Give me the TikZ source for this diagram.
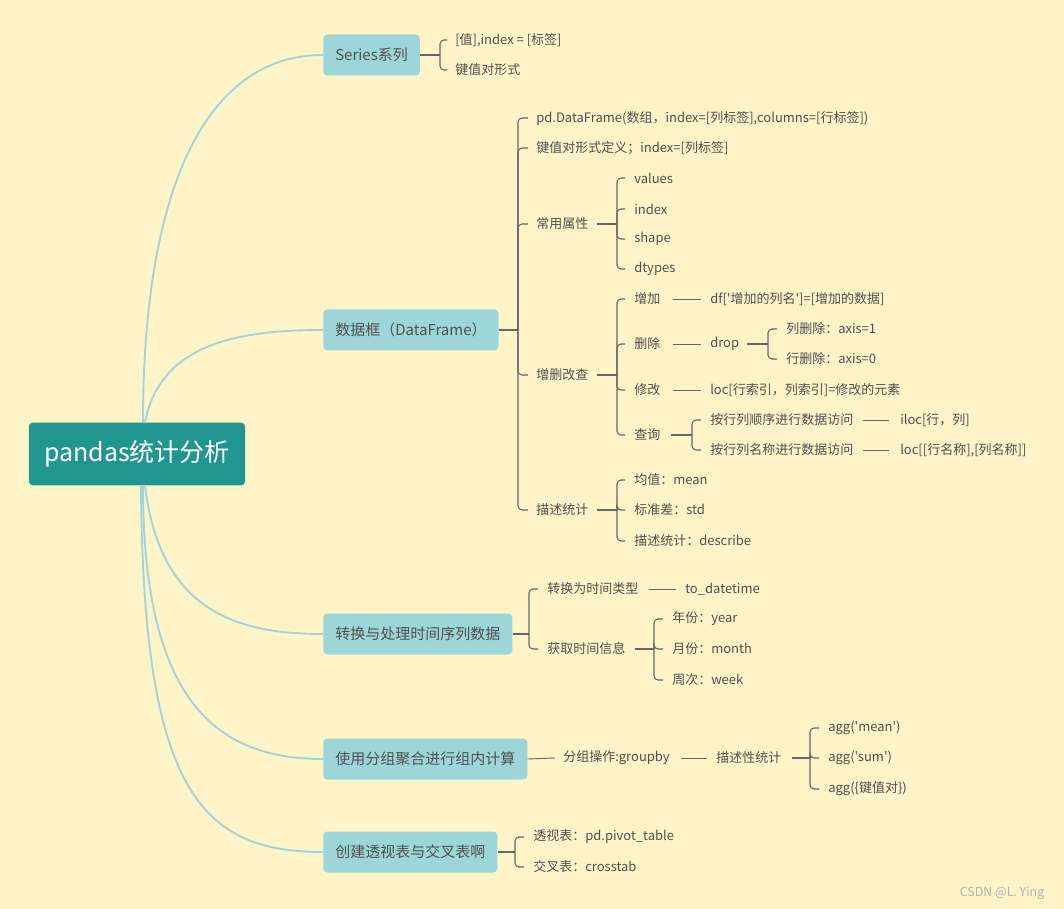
\documentclass[tikz,border=0pt]{standalone}
\usepackage{fontspec}
\newfontfamily\uifont{Noto Sans CJK SC}
\usetikzlibrary{calc}
\definecolor{bgcol}{HTML}{FFF3C8}
\definecolor{rootcol}{HTML}{219690}
\definecolor{topiccol}{HTML}{9CD6D8}
\definecolor{curvecol}{HTML}{9DD5DE}
\definecolor{linecol}{HTML}{666666}
\definecolor{txtcol}{HTML}{505050}

\begin{document}
\begin{tikzpicture}[
    x=0.75pt, y=-0.75pt,
    root/.style={rectangle, fill=rootcol, text=white, rounded corners=3pt,
                 font=\uifont\fontsize{18.75pt}{22pt}\selectfont,
                 inner xsep=11.5pt, minimum height=47pt},
    topic/.style={rectangle, fill=topiccol, text=txtcol, rounded corners=3pt,
                  font=\uifont\fontsize{11.25pt}{14pt}\selectfont,
                  inner xsep=9pt, minimum height=30.75pt, anchor=west},
    leaf/.style={text=txtcol, font=\uifont\fontsize{9.75pt}{12pt}\selectfont,
                 inner sep=0pt, anchor=west},
    branch/.style={draw=curvecol, line width=1.4pt},
    stem/.style={draw=linecol, line width=1.2pt},
    brk/.style={draw=linecol, line width=0.8pt, rounded corners=3pt},
    link/.style={draw=linecol, line width=0.7pt}
]
    \useasboundingbox (0,0) rectangle (1064,909);
    \fill[bgcol] (0,0) rectangle (1064,909);

    % main topics
    \node[root] (root) at (137,454) {pandas统计分析};
    \node[topic] (ser) at (323,55) {Series系列};
    \node[topic] (df) at (323,330) {数据框（DataFrame）};
    \node[topic] (ts) at (323,634) {转换与处理时间序列数据};
    \node[topic] (grp) at (323,759) {使用分组聚合进行组内计算};
    \node[topic] (pvt) at (323,852) {创建透视表与交叉表啊};

    \draw[branch] ($(root.north)+(6,0)$) .. controls (143,190) and (205,55) .. (ser.west);
    \draw[branch] ($(root.north)+(8,0)$) .. controls (160,345) and (235,330) .. (df.west);
    \draw[branch] ($(root.south)+(8,0)$) .. controls (160,610) and (235,634) .. (ts.west);
    \draw[branch] ($(root.south)+(6,0)$) .. controls (143,700) and (215,759) .. (grp.west);
    \draw[branch] ($(root.south)+(4,0)$) .. controls (143,790) and (200,852) .. (pvt.west);

    % Series
    \node[leaf] (s1) at (455,40) {[值],index = [标签]};
    \node[leaf] (s2) at (455,70) {键值对形式};
    \coordinate (bS) at (440,55);
    \draw[stem] (ser.east) -- (bS);
    \foreach \c in {s1,s2}
        \draw[brk] (bS) |- ($(\c.west)+(-8,0)$);

    % DataFrame
    \node[leaf] (d1) at (536,118) {pd.DataFrame(数组，index=[列标签],columns=[行标签])};
    \node[leaf] (d2) at (536,148) {键值对形式定义；index=[列标签]};
    \node[leaf] (d3) at (536,224) {常用属性};
    \node[leaf] (d4) at (536,375) {增删改查};
    \node[leaf] (d5) at (536,510) {描述统计};
    \coordinate (bD) at (518,330);
    \draw[stem] (df.east) -- (bD);
    \foreach \c in {d1,d2,d3,d4,d5}
        \draw[brk] (bD) |- ($(\c.west)+(-8,0)$);

    \node[leaf] (a1) at (634,178) {values};
    \node[leaf] (a2) at (634,209) {index};
    \node[leaf] (a3) at (634,239) {shape};
    \node[leaf] (a4) at (634,269) {dtypes};
    \coordinate (bA) at (617,224);
    \draw[stem] ($(d3.east)+(8,0)$) -- (bA);
    \foreach \c in {a1,a2,a3,a4}
        \draw[brk] (bA) |- ($(\c.west)+(-9,0)$);

    \node[leaf] (c1) at (634,299) {增加};
    \node[leaf] (c2) at (634,344) {删除};
    \node[leaf] (c3) at (634,390) {修改};
    \node[leaf] (c4) at (634,435) {查询};
    \coordinate (bC) at (617,375);
    \draw[stem] ($(d4.east)+(8,0)$) -- (bC);
    \foreach \c in {c1,c2,c3,c4}
        \draw[brk] (bC) |- ($(\c.west)+(-9,0)$);

    \node[leaf] (c1a) at (710,299) {df['增加的列名']=[增加的数据]};
    \draw[link] ($(c1.east)+(12,0)$) -- ($(c1a.west)+(-9,0)$);
    \node[leaf] (c2a) at (710,344) {drop};
    \draw[link] ($(c2.east)+(12,0)$) -- ($(c2a.west)+(-9,0)$);
    \node[leaf] (c2b) at (786,329) {列删除：axis=1};
    \node[leaf] (c2c) at (786,359) {行删除：axis=0};
    \coordinate (bDrop) at (768,344);
    \draw[stem] ($(c2a.east)+(8,0)$) -- (bDrop);
    \foreach \c in {c2b,c2c}
        \draw[brk] (bDrop) |- ($(\c.west)+(-9,0)$);
    \node[leaf] (c3a) at (710,390) {loc[行索引，列索引]=修改的元素};
    \draw[link] ($(c3.east)+(12,0)$) -- ($(c3a.west)+(-9,0)$);

    \node[leaf] (q1) at (710,420) {按行列顺序进行数据访问};
    \node[leaf] (q2) at (710,450) {按行列名称进行数据访问};
    \coordinate (bQ) at (692,435);
    \draw[stem] ($(c4.east)+(10,0)$) -- (bQ);
    \foreach \c in {q1,q2}
        \draw[brk] (bQ) |- ($(\c.west)+(-9,0)$);
    \node[leaf] (q1a) at (900,420) {iloc[行，列]};
    \draw[link] ($(q1.east)+(9,0)$) -- ($(q1a.west)+(-11,0)$);
    \node[leaf] (q2a) at (900,450) {loc[[行名称],[列名称]]};
    \draw[link] ($(q2.east)+(9,0)$) -- ($(q2a.west)+(-11,0)$);

    \node[leaf] (e1) at (634,480) {均值：mean};
    \node[leaf] (e2) at (634,510) {标准差：std};
    \node[leaf] (e3) at (634,541) {描述统计：describe};
    \coordinate (bE) at (617,510);
    \draw[stem] ($(d5.east)+(8,0)$) -- (bE);
    \foreach \c in {e1,e2,e3}
        \draw[brk] (bE) |- ($(\c.west)+(-9,0)$);

    % time series
    \node[leaf] (t1) at (547,589) {转换为时间类型};
    \node[leaf] (t2) at (547,649) {获取时间信息};
    \coordinate (bT) at (529,634);
    \draw[stem] (ts.east) -- (bT);
    \foreach \c in {t1,t2}
        \draw[brk] (bT) |- ($(\c.west)+(-9,0)$);
    \node[leaf] (t1a) at (685,589) {to\_datetime};
    \draw[link] ($(t1.east)+(10,0)$) -- ($(t1a.west)+(-9,0)$);
    \node[leaf] (y1) at (672,619) {年份：year};
    \node[leaf] (y2) at (672,649) {月份：month};
    \node[leaf] (y3) at (672,680) {周次：week};
    \coordinate (bT2) at (654,649);
    \draw[stem] ($(t2.east)+(9,0)$) -- (bT2);
    \foreach \c in {y1,y2,y3}
        \draw[brk] (bT2) |- ($(\c.west)+(-9,0)$);

    % groupby
    \node[leaf] (g1) at (563,758) {分组操作:groupby};
    \draw[link] (grp.east) -- ($(g1.west)+(-8,0)$);
    \node[leaf] (g2) at (716,758) {描述性统计};
    \draw[link] ($(g1.east)+(11,0)$) -- ($(g2.west)+(-9,0)$);
    \node[leaf] (h1) at (828,728) {agg('mean')};
    \node[leaf] (h2) at (828,758) {agg('sum')};
    \node[leaf] (h3) at (828,789) {agg(\{键值对\})};
    \coordinate (bG) at (810,758);
    \draw[stem] ($(g2.east)+(10,0)$) -- (bG);
    \foreach \c in {h1,h2,h3}
        \draw[brk] (bG) |- ($(\c.west)+(-9,0)$);

    % pivot
    \node[leaf] (p1) at (533,837) {透视表：pd.pivot\_table};
    \node[leaf] (p2) at (533,867) {交叉表：crosstab};
    \coordinate (bP) at (515,852);
    \draw[stem] (pvt.east) -- (bP);
    \foreach \c in {p1,p2}
        \draw[brk] (bP) |- ($(\c.west)+(-9,0)$);

    \node[anchor=east, text=gray!60, font=\uifont\fontsize{9.3pt}{11pt}\selectfont]
        (mark) at (1049,893) {CSDN @L. Ying};
\end{tikzpicture}
\end{document}
